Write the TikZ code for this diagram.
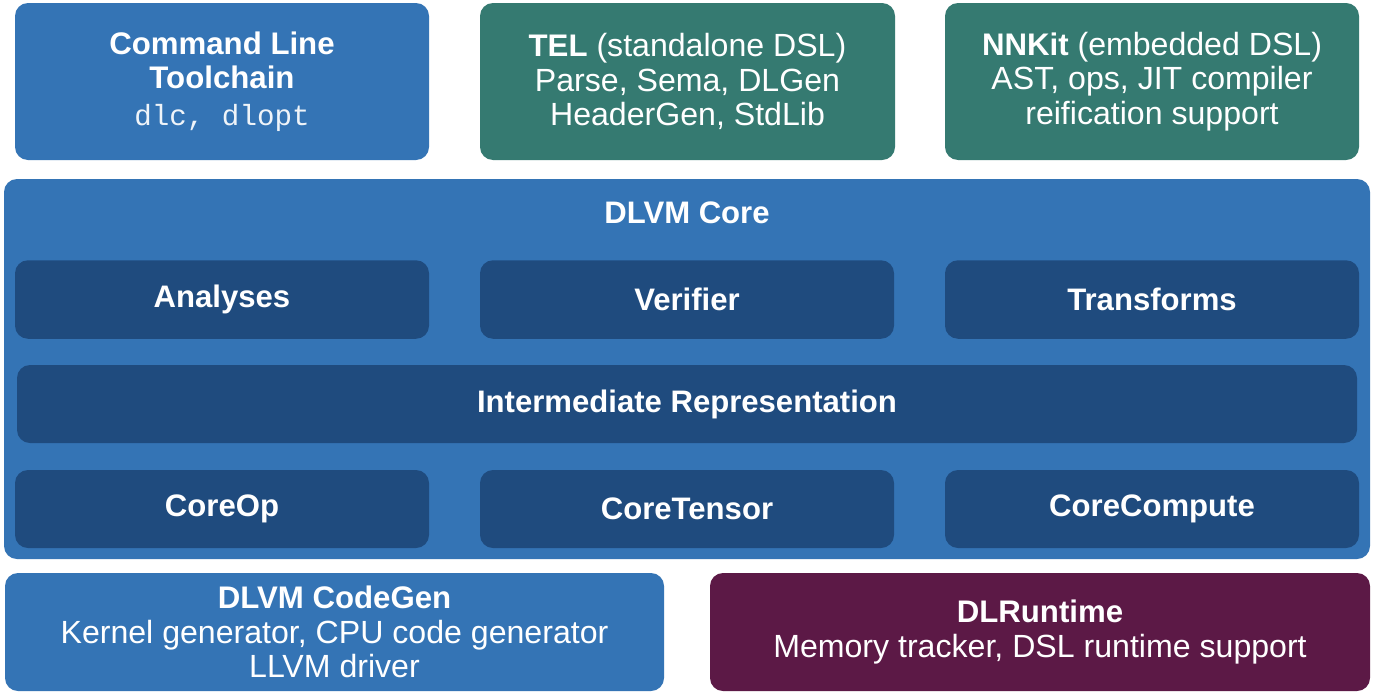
\documentclass[tikz,border=0pt]{standalone}
\usepackage{fontspec}
\setmainfont{Liberation Sans}
\setmonofont{Liberation Mono}
\definecolor{cblue}{HTML}{3474B5}
\definecolor{cdark}{HTML}{1F4B7E}
\definecolor{cteal}{HTML}{357A71}
\definecolor{cpurple}{HTML}{5C1946}
\newcommand\bt[1]{{\fontsize{15.6}{17.25}\selectfont\bfseries #1}}
\begin{document}
\begin{tikzpicture}[x=0.5pt,y=-0.5pt,
  box/.style={rounded corners=6.5pt, inner sep=0pt, text=white, align=center,
    font=\fontsize{16.05}{17.25}\selectfont},
  outer/.style={box, fill=cblue},
  tealbox/.style={box, fill=cteal},
  inner/.style={box, fill=cdark, minimum height=39.25pt, font=\fontsize{15.55}{17}\selectfont\bfseries},
  third/.style={minimum width=207pt},
  txt/.style={text=white, inner sep=0pt, font=\fontsize{15.55}{17}\selectfont\bfseries}]
\useasboundingbox (0,0) rectangle (1374,696);
\fill[white] (0,0) rectangle (1374,696);
% top row
\node[outer, third, minimum height=78.5pt] (cmd) at (222,81.5)
  {\bt{Command Line}\\\bt{Toolchain}\\[1pt]{\fontsize{14.6}{17.25}\ttfamily\color{white!92!cblue}dlc, dlopt}};
\node[tealbox, minimum width=207.5pt, minimum height=78.5pt] (tel) at (687.5,81.5)
  {\bt{TEL} (standalone DSL)\\Parse, Sema, DLGen\\HeaderGen, StdLib};
\node[tealbox, third, minimum height=78.5pt] (nnk) at (1152,81.5)
  {\bt{NNKit} (embedded DSL)\\AST, ops, JIT compiler\\reification support};
% core
\node[outer, minimum width=683pt, minimum height=190pt] (core) at (687,369) {};
\node[txt] (coretitle) at (687,213) {DLVM Core};
\node[inner, third] (ana) at (222,299.5) {Analyses};
\node[inner, third] (ver) at (687,299.5) {Verifier};
\node[inner, third] (tra) at (1152,299.5) {Transforms};
\node[inner, minimum width=670pt, minimum height=39pt] (ir) at (687,404) {Intermediate Representation};
\node[inner, third, minimum height=39pt] (cop) at (222,509) {CoreOp};
\node[inner, third, minimum height=39pt] (cte) at (687,509) {CoreTensor};
\node[inner, third, minimum height=39pt] (cco) at (1152,509) {CoreCompute};
% bottom row
\node[outer, minimum width=329.5pt, minimum height=59pt] (cg) at (334.5,632)
  {\bt{DLVM CodeGen}\\Kernel generator, CPU code generator\\LLVM driver};
\node[box, fill=cpurple, minimum width=330pt, minimum height=59pt] (rt) at (1040,632)
  {\bt{DLRuntime}\\Memory tracker, DSL runtime support};
\end{tikzpicture}
\end{document}
